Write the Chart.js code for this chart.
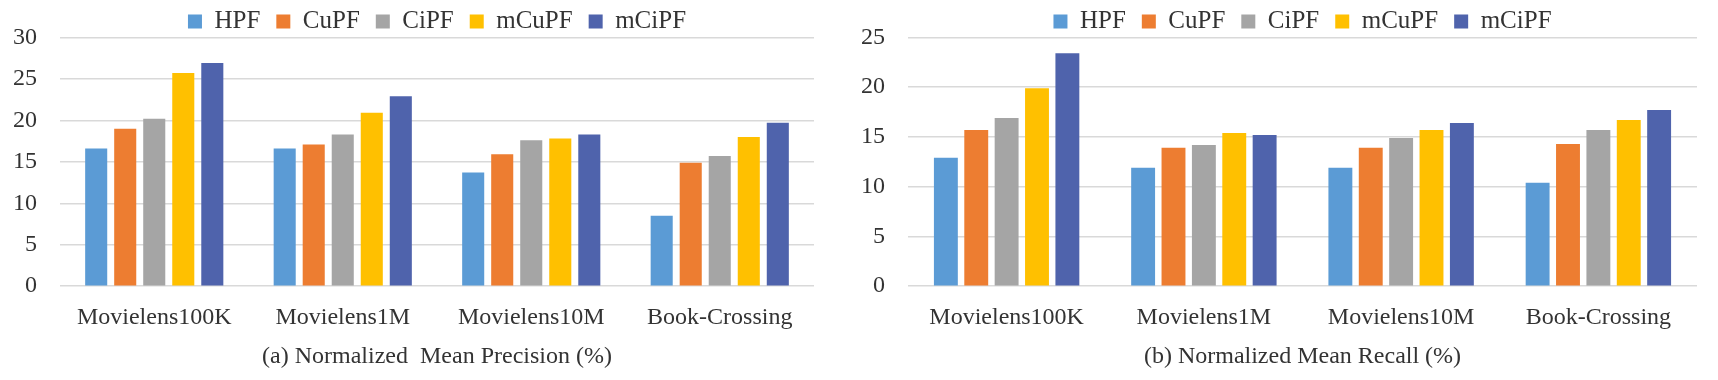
<!DOCTYPE html>
<html>
<head>
<meta charset="utf-8">
<script src="https://cdn.jsdelivr.net/npm/chart.js"></script>
<style>
  body { margin: 0; background: #fff; }
  .box { position: absolute; top: 0; height: 380px; }
</style>
</head>
<body>
<div class="box" style="left:0; width:814px;"><canvas id="precisionChart"></canvas></div>
<div class="box" style="left:814px; width:904px;"><canvas id="recallChart"></canvas></div>
<script>
const categories = ['Movielens100K', 'Movielens1M', 'Movielens10M', 'Book-Crossing'];
const methods = ['HPF', 'CuPF', 'CiPF', 'mCuPF', 'mCiPF'];
const colors = ['#5B9BD5', '#ED7D31', '#A5A5A5', '#FFC000', '#4F63AC'];

// (a) normalized mean precision (%)
const precisionHPF   = [16.6, 16.6, 13.7, 8.5];
const precisionCuPF  = [19.0, 17.1, 15.9, 14.9];
const precisionCiPF  = [20.2, 18.3, 17.6, 15.7];
const precisionMCuPF = [25.7, 20.9, 17.8, 18.0];
const precisionMCiPF = [26.9, 22.9, 18.3, 19.7];

// (b) normalized mean recall (%)
const recallHPF   = [12.9, 11.9, 11.9, 10.4];
const recallCuPF  = [15.7, 13.9, 13.9, 14.3];
const recallCiPF  = [16.9, 14.2, 14.9, 15.7];
const recallMCuPF = [19.9, 15.4, 15.7, 16.7];
const recallMCiPF = [23.4, 15.2, 16.4, 17.7];

Chart.defaults.font.family = "'Liberation Serif', 'Times New Roman', serif";
Chart.defaults.color = '#333';

function makeConfig(series, yMax, caption, pad, axisWidth, barPct) {
    return {
        type: 'bar',
        data: {
            labels: categories,
            datasets: series.map((values, i) => ({
                label: methods[i],
                data: values,
                backgroundColor: colors[i],
                categoryPercentage: 0.77,
                barPercentage: barPct
            }))
        },
        options: {
            responsive: true,
            maintainAspectRatio: false,
            animation: false,
            layout: { padding: pad },
            plugins: {
                tooltip: { enabled: false },
                legend: {
                    position: 'top',
                    fullSize: false,
                    maxHeight: 44.5,
                    labels: {
                        boxWidth: 14,
                        boxHeight: 14,
                        padding: 16,
                        font: { size: 25 }
                    }
                },
                title: {
                    display: true,
                    position: 'bottom',
                    fullSize: false,
                    text: caption,
                    font: { size: 24, weight: 'normal' },
                    padding: { top: 10, bottom: 9 }
                }
            },
            scales: {
                x: {
                    grid: { display: false, drawTicks: false },
                    border: { display: false },
                    ticks: { font: { size: 24 }, padding: 17, maxRotation: 0 },
                    afterFit: (scale) => { scale.height = 46; }
                },
                y: {
                    min: 0,
                    max: yMax,
                    border: { display: false },
                    grid: { color: '#D9D9D9', lineWidth: 1.5, drawTicks: false },
                    ticks: { stepSize: 5, font: { size: 24 }, padding: 23 },
                    afterFit: (scale) => { scale.width = axisWidth; }
                }
            }
        }
    };
}

new Chart(document.querySelector('#precisionChart'), makeConfig(
    [precisionHPF, precisionCuPF, precisionCiPF, precisionMCuPF, precisionMCiPF],
    30, '(a) Normalized  Mean Precision (%)',
    { top: -8.5, left: 12, right: 0, bottom: 0 }, 48, 0.76
));

new Chart(document.querySelector('#recallChart'), makeConfig(
    [recallHPF, recallCuPF, recallCiPF, recallMCuPF, recallMCiPF],
    25, '(b) Normalized Mean Recall (%)',
    { top: -8.5, left: 47, right: 21, bottom: 0 }, 47, 0.787
));
</script>
</body>
</html>
